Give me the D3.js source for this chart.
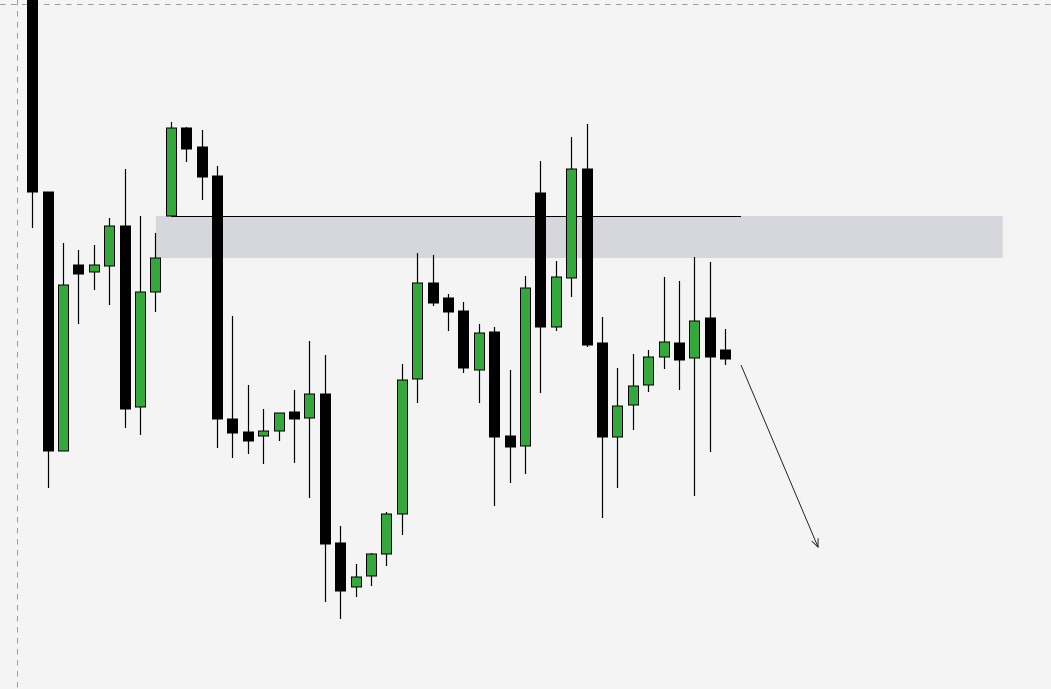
<!DOCTYPE html>
<html>
<head>
<meta charset="utf-8">
<script src="https://cdn.jsdelivr.net/npm/d3@7"></script>
<style>
  html, body { margin: 0; padding: 0; background: #f4f4f4; overflow: hidden; }
  svg { display: block; }
</style>
</head>
<body>
<svg id="chart" width="1051" height="689"></svg>
<script>
// ---- Data (price units) ----
const candleIndex = d3.range(46);
const opens  = [729,497,238,424,417,423,463,282,397,473,561,542,513,270,257,253,258,277,271,295,146,102,113,135,175,310,406,391,378,319,357,253,243,496,362,411,520,346,252,284,304,332,346,331,371,339];
const highs  = [749,497,446,439,444,471,520,473,456,567,562,559,523,373,304,280,276,299,348,334,163,125,136,177,325,436,434,395,387,365,362,319,413,528,428,552,565,372,321,335,339,412,408,432,427,360];
const lows   = [461,201,238,365,399,384,261,254,377,473,527,489,241,231,235,225,248,226,191, 87, 70, 92,103,123,154,286,383,358,316,286,183,206,215,296,358,392,342,171,201,259,297,320,299,193,237,324];
const closes = [497,238,404,415,424,463,280,397,431,561,540,512,270,256,248,258,276,270,295,145, 98,112,135,175,309,406,386,377,321,356,252,242,401,362,412,520,344,252,283,303,332,347,329,368,332,330];

// supply zone and annotations
const zoneTop = 473, zoneBottom = 431;
const zoneStart = 8, zoneEnd = 63;
const levelPrice = 473, levelStart = 9, levelEnd = 46;
const arrowFrom = [46, 324], arrowTo = [51, 142];

const W = 1051, H = 689;
const svg = d3.select('#chart');

const x = d3.scaleLinear().domain([0, 45]).range([32.6, 725.6]);
const y = d3.scaleLinear().domain([0, 689]).range([689, 0]);
const cx = i => Math.round(x(i) - 0.5) + 0.5;

svg.append('rect').attr('width', W).attr('height', H).attr('fill', '#f4f4f4');

// zone
svg.append('rect')
  .attr('x', x(zoneStart)).attr('y', y(zoneTop))
  .attr('width', x(zoneEnd) - x(zoneStart))
  .attr('height', y(zoneBottom) - y(zoneTop))
  .attr('fill', '#d6d7dc');

// level line
svg.append('line')
  .attr('x1', x(levelStart)).attr('x2', x(levelEnd))
  .attr('y1', Math.round(y(levelPrice)) + 0.5).attr('y2', Math.round(y(levelPrice)) + 0.5)
  .attr('stroke', '#000').attr('stroke-width', 1.2);

// dashed borders
svg.append('line')
  .attr('x1', 0).attr('x2', W).attr('y1', 4.5).attr('y2', 4.5)
  .attr('stroke', '#9d9da5').attr('stroke-width', 1).attr('stroke-dasharray', '5.5,5.5');
svg.append('line')
  .attr('x1', 17.5).attr('x2', 17.5).attr('y1', 0).attr('y2', H)
  .attr('stroke', '#9d9da5').attr('stroke-width', 1).attr('stroke-dasharray', '5.5,5.5');

const candles = candleIndex.map(i => ({ i, o: opens[i], h: highs[i], l: lows[i], c: closes[i] }));

const g = svg.append('g');
// wicks
g.selectAll('line.wick').data(candles).join('line')
  .attr('class', 'wick')
  .attr('x1', d => cx(d.i)).attr('x2', d => cx(d.i))
  .attr('y1', d => y(d.h)).attr('y2', d => y(d.l))
  .attr('stroke', '#000').attr('stroke-width', 1.2);
// bodies
g.selectAll('rect.body').data(candles).join('rect')
  .attr('class', 'body')
  .attr('x', d => cx(d.i) - 5)
  .attr('width', 10)
  .attr('y', d => y(Math.max(d.o, d.c)))
  .attr('height', d => Math.max(1, Math.abs(y(d.o) - y(d.c))))
  .attr('fill', d => d.c > d.o ? '#34a83a' : '#000')
  .attr('stroke', '#000').attr('stroke-width', 1);

// arrow
const defs = svg.append('defs');
defs.append('marker')
  .attr('id', 'head').attr('viewBox', '-10 -6 12 12')
  .attr('refX', 0).attr('refY', 0)
  .attr('markerWidth', 12).attr('markerHeight', 12)
  .attr('markerUnits', 'userSpaceOnUse')
  .attr('orient', 'auto')
  .append('path').attr('d', 'M-8,-3.5L0,0L-8,3.5')
  .attr('fill', 'none').attr('stroke', '#222').attr('stroke-width', 1);
svg.append('line')
  .attr('x1', x(arrowFrom[0])).attr('y1', y(arrowFrom[1]))
  .attr('x2', x(arrowTo[0])).attr('y2', y(arrowTo[1]))
  .attr('stroke', '#222').attr('stroke-width', 1)
  .attr('marker-end', 'url(#head)');
</script>
</body>
</html>
